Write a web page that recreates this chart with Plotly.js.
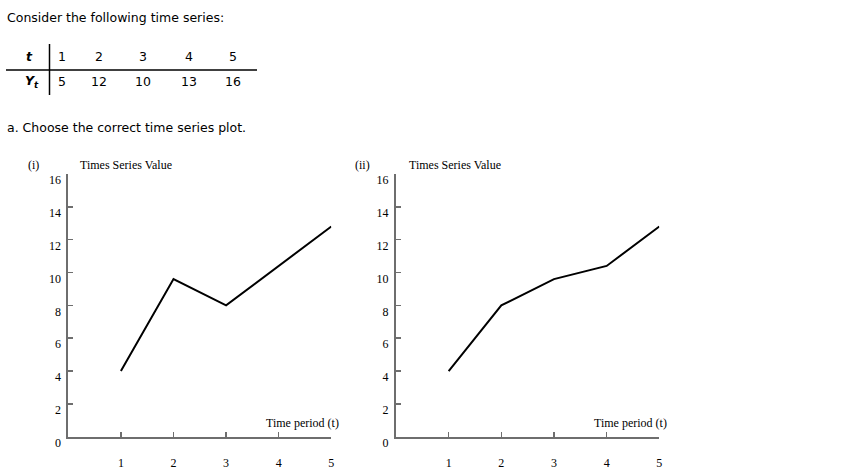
<!DOCTYPE html>
<html>
<head>
<meta charset="utf-8">
<script src="https://cdn.plot.ly/plotly-3.0.1.min.js"></script>
<style>
html,body{margin:0;padding:0;background:#fff;}
#chart{width:865px;height:472px;}
</style>
</head>
<body>
<div id="chart"></div>
<script>
// Table data
var tValues = [1, 2, 3, 4, 5];
var ytValues = [5, 12, 10, 13, 16];

// Plotted series (values as drawn in the two candidate plots)
var periods = [1, 2, 3, 4, 5];
var plotI = [4, 9.6, 8, 10.4, 12.8];
var plotII = [4, 8, 9.6, 10.4, 12.8];

var yTicks = [0, 2, 4, 6, 8, 10, 12, 14, 16];
var xTicks = [1, 2, 3, 4, 5];

var W = 865, H = 472;
function px(x){ return x / W; }
function py(y){ return 1 - y / H; }

var axisColor = '#6e6e6e';
var serif = 'Liberation Serif';
var sans = 'DejaVu Sans';

function xa(d0, d1){
  return {
    domain: [px(d0), px(d1)], range: [0, 5], anchor: null,
    showline: true, linecolor: axisColor, linewidth: 2,
    ticks: 'inside', ticklen: 5, tickwidth: 1.5, tickcolor: axisColor,
    tickvals: xTicks, ticktext: xTicks.map(String),
    showgrid: false, zeroline: false, fixedrange: true,
    tickfont: {family: serif, size: 12, color: '#000'},
    ticklabelstandoff: 14
  };
}
function ya(){
  return {
    domain: [py(436.7), py(174)], range: [0, 16],
    showline: true, linecolor: axisColor, linewidth: 2,
    ticks: 'inside', ticklen: 5, tickwidth: 1.5, tickcolor: axisColor,
    tickvals: yTicks, ticktext: yTicks.map(String),
    showgrid: false, zeroline: false, fixedrange: true,
    tickfont: {family: serif, size: 12, color: '#000'},
    ticklabelshift: 6,
    ticklabelstandoff: 3
  };
}

var xa1 = xa(68.3, 331.3); xa1.anchor = 'y';
var xa2 = xa(396, 659.3); xa2.anchor = 'y2';
var ya1 = ya(); ya1.anchor = 'x';
var ya2 = ya(); ya2.anchor = 'x2';

var traces = [
  {x: periods, y: plotI, xaxis: 'x', yaxis: 'y', mode: 'lines',
   line: {color: '#000', width: 2}, hoverinfo: 'skip'},
  {x: periods, y: plotII, xaxis: 'x2', yaxis: 'y2', mode: 'lines',
   line: {color: '#000', width: 2}, hoverinfo: 'skip'}
];

var annotations = [];
function ann(text, x, y, opts){
  var a = {text: text, x: px(x), y: py(y), xref: 'paper', yref: 'paper',
    showarrow: false, xanchor: 'left', yanchor: 'middle',
    font: {family: sans, size: 12.5, color: '#000'}};
  for (var k in opts) a[k] = opts[k];
  annotations.push(a);
}

ann('Consider the following time series:', 5, 17);
ann('a. Choose the correct time series plot.', 5, 127);

// table
var tf = {family: sans, size: 12.5, color: '#000'};
ann('<b><i>t</i></b>', 30, 56, {xanchor: 'center', font: tf});
ann('<b><i>Y<sub>t</sub></i></b>', 32, 82, {xanchor: 'center', font: tf});
var colX = [62.3, 98.7, 143.3, 189.3, 233.3];
tValues.forEach(function(v, i){ ann(String(v), colX[i], 56, {xanchor: 'center', font: tf}); });
ytValues.forEach(function(v, i){ ann(String(v), colX[i], 82, {xanchor: 'center', font: tf}); });

// plot labels
var sf = {family: serif, size: 12, color: '#000'};
ann('(i)', 33, 165, {xanchor: 'center', font: sf});
ann('(ii)', 362, 165, {xanchor: 'center', font: sf});
ann('Times Series Value', 78, 165, {font: sf});
ann('Times Series Value', 407, 165, {font: sf});
ann('Time period (t)', 340.5, 423, {xanchor: 'right', font: sf});
ann('Time period (t)', 668.5, 423, {xanchor: 'right', font: sf});

var shapes = [
  {type: 'line', xref: 'paper', yref: 'paper', x0: px(6), x1: px(257), y0: py(70), y1: py(70),
   line: {color: '#000', width: 1.5}},
  {type: 'line', xref: 'paper', yref: 'paper', x0: px(49.5), x1: px(49.5), y0: py(44), y1: py(95),
   line: {color: '#000', width: 1.5}}
];

var layout = {
  width: W, height: H,
  margin: {l: 0, r: 0, t: 0, b: 0},
  paper_bgcolor: '#fff', plot_bgcolor: '#fff',
  showlegend: false,
  xaxis: xa1, yaxis: ya1, xaxis2: xa2, yaxis2: ya2,
  annotations: annotations, shapes: shapes
};

Plotly.newPlot('chart', traces, layout, {staticPlot: true, displayModeBar: false});
</script>
</body>
</html>
